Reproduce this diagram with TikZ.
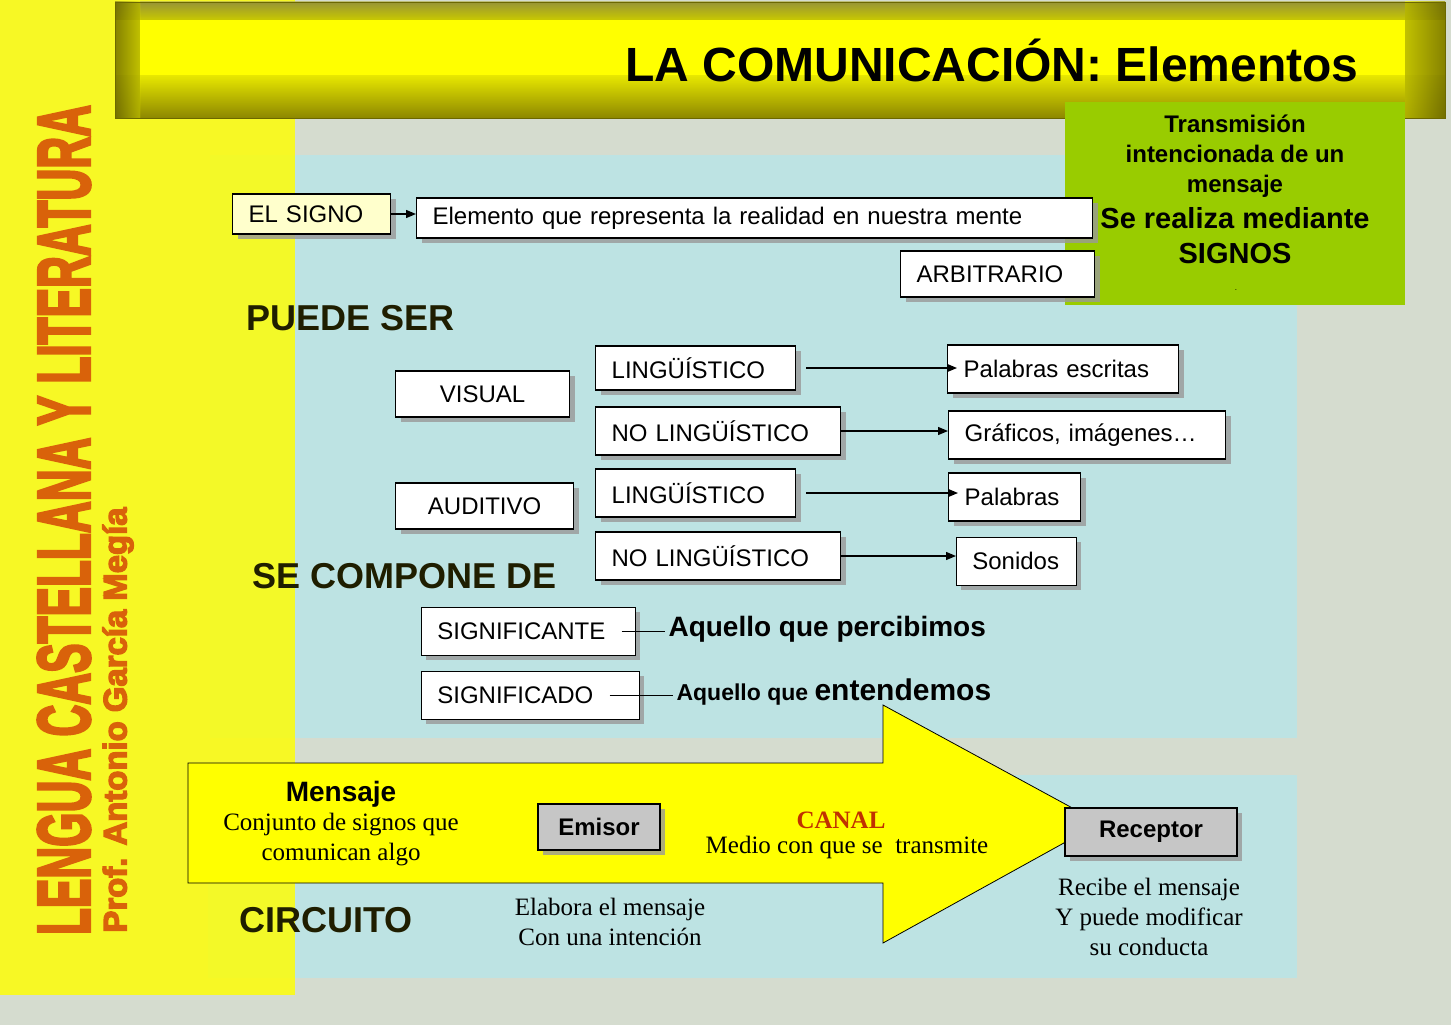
\documentclass[tikz,border=0pt]{standalone}
\usepackage{fontspec}
\setmainfont{Liberation Serif}
\setsansfont{Liberation Sans}
\newfontfamily\heavyfont{Liberation Sans}[FakeBold=4,BoldFont={* Bold}]
\usetikzlibrary{arrows.meta,shadows}
\definecolor{bg}{HTML}{D5DCCF}
\definecolor{ylw}{HTML}{FFFF00}
\definecolor{pblue}{HTML}{BDE3E3}
\definecolor{grn}{HTML}{99CC00}
\definecolor{org}{HTML}{D9620A}
\definecolor{olive}{HTML}{9A9400}
\definecolor{canal}{HTML}{C03000}
\tikzset{
 box/.style={draw=black,line width=1.3pt,fill=white,font=\sffamily\fontsize{24}{28}\selectfont,anchor=west,inner xsep=16pt,text width=#1-32pt,align=left,minimum height=40pt,drop shadow={shadow xshift=5pt,shadow yshift=-5pt,fill=gray!80,opacity=0.8}},
 gbox/.style={draw=black,line width=1.3pt,fill=gray!45,font=\sffamily\bfseries\fontsize{24}{28}\selectfont,minimum height=46pt,drop shadow={shadow xshift=5pt,shadow yshift=-5pt,fill=gray!80,opacity=0.8}},
 head/.style={font=\sffamily\bfseries\fontsize{36}{40}\selectfont,text=black!80!olive,anchor=west},
 ser/.style={font=\fontsize{25}{30}\selectfont,align=center},
 arr/.style={-{Triangle[length=10pt,width=8pt]},line width=1.3pt},
}
\begin{document}
\begin{tikzpicture}[x=1pt,y=-1pt]
\useasboundingbox (0,0) rectangle (1451,1025);
\fill[bg] (0,0) rectangle (1451,1025);
% panels
\fill[pblue] (210,155) rectangle (1297,738);
\fill[pblue] (208,775) rectangle (1297,978);
\fill[ylw,opacity=0.82] (0,0) rectangle (295,995);
% top banner
\fill[ylw] (115,2) rectangle (1445,118);
\fill[top color=ylw,bottom color=olive,opacity=0.9] (115,75) rectangle (1445,118);
\fill[top color=olive!70,bottom color=ylw,opacity=0.7] (115,2) rectangle (1445,20);
\fill[left color=olive,right color=ylw,opacity=0.6] (115,2) rectangle (140,118);
\fill[left color=ylw,right color=olive,opacity=0.6] (1405,2) rectangle (1445,118);
\draw[olive!70!black,line width=0.8pt] (115,2) rectangle (1445,118);
\node[anchor=east,font=\sffamily\bfseries\fontsize{48}{55}\selectfont] (title) at (1362,60) {LA COMUNICACIÓN: Elementos};
% vertical titles
\node[rotate=90,text=org] (lcl) at (64,520) {\resizebox{830pt}{52pt}{\heavyfont\bfseries LENGUA CASTELLANA Y LITERATURA}};
\node[rotate=90,text=org] (prof) at (118,720) {\resizebox{425pt}{24pt}{\heavyfont\bfseries Prof. Antonio García Megía}};
% green box
\fill[grn] (1065,102) rectangle (1405,305);
\node[align=center,font=\sffamily\bfseries\fontsize{24}{30}\selectfont] (gtxt) at (1235,156) {Transmisión\\intencionada de un\\mensaje};
\node[align=center,font=\sffamily\bfseries\fontsize{29}{35}\selectfont] (gtxt2) at (1235,236) {Se realiza mediante\\SIGNOS};
\node[font=\sffamily\fontsize{8}{8}\selectfont] (dot) at (1236,290) {.};
% signo row
\node[box=158pt,fill=white!80!ylw] (signo) at (232,214) {EL SIGNO};
\node[box=676pt] (def) at (416,218) {Elemento que representa la realidad en nuestra mente};
\draw[arr] (signo.east) -- (signo.east -| def.west);
\node[box=194pt,minimum height=46pt] (arb) at (900,274) {ARBITRARIO};
\node[head] (puede) at (243,318) {PUEDE SER};
\node[head] (compone) at (249,576) {SE COMPONE DE};
\node[head] (circ) at (236,920) {CIRCUITO};
% visual / auditivo
\node[box=174pt,minimum height=46pt,align=center] (vis) at (395,394) {VISUAL};
\node[box=178pt,minimum height=46pt,align=center] (aud) at (395,506) {AUDITIVO};
\node[box=200pt,minimum height=44pt] (l1) at (595,368) {LINGÜÍSTICO};
\node[box=245pt,minimum height=48pt] (n1) at (595,431) {NO LINGÜÍSTICO};
\node[box=200pt,minimum height=48pt] (l2) at (595,493) {LINGÜÍSTICO};
\node[box=245pt,minimum height=48pt] (n2) at (595,556) {NO LINGÜÍSTICO};
\node[box=231pt,minimum height=48pt] (r1) at (947,369) {Palabras escritas};
\node[box=277pt,minimum height=48pt] (r2) at (948,435) {Gráficos, imágenes…};
\node[box=132pt,minimum height=48pt] (r3) at (948,497) {Palabras};
\node[box=120pt,minimum height=48pt,line width=0.6pt] (r4) at (956,561) {Sonidos};
\draw[arr] ([xshift=10pt]l1.east) -- ([xshift=10pt]l1.east -| r1.west);
\draw[arr] (n1.east) -- (n1.east -| r2.west);
\draw[arr] ([xshift=10pt]l2.east) -- ([xshift=10pt]l2.east -| r3.west);
\draw[arr] (n2.east) -- (n2.east -| r4.west);
% significante
\node[box=214pt,minimum height=48pt,line width=0.7pt,drop shadow={opacity=0}] (ste) at (421,631) {SIGNIFICANTE};
\node[box=218pt,minimum height=48pt,line width=0.7pt,drop shadow={opacity=0}] (sdo) at (421,695) {SIGNIFICADO};
\node[anchor=west,font=\sffamily\bfseries\fontsize{28}{30}\selectfont] (perc) at (665,629) {Aquello que percibimos};
\node[anchor=west,font=\sffamily\bfseries\fontsize{23}{30}\selectfont] (ent) at (673,692) {Aquello que \fontsize{30}{30}\selectfont entendemos};
\draw[line width=0.8pt] ([xshift=-14pt]ste.east) -- (ste.east -| perc.west);
\draw[line width=0.8pt] ([xshift=-30pt]sdo.east) -- (sdo.east -| ent.west);
% big arrow
\draw[fill=ylw,line width=0.8pt] (188,763) -- (883,763) -- (883,705) -- (1100,823) -- (883,943) -- (883,883) -- (188,883) -- cycle;
\node[font=\sffamily\bfseries\fontsize{28}{30}\selectfont] (mens) at (341,794) {Mensaje};
\node[ser] (mensd) at (341,840) {Conjunto de signos que\\comunican algo};
\node[gbox,minimum width=122pt] (emi) at (599,827) {Emisor};
\node[font=\bfseries\fontsize{25}{28}\selectfont,text=canal,inner sep=0pt] (canal) at (841,820) {CANAL};
\node[ser,inner sep=0pt] (canald) at (847,847) {Medio con que se\ \ transmite};
\node[gbox,minimum width=172pt,minimum height=48pt] (rec) at (1151,832) {Receptor};
\node[ser] (emid) at (610,922) {Elabora el mensaje\\Con una intención};
\node[ser] (recd) at (1149,917) {Recibe el mensaje\\Y puede modificar\\su conducta};
\end{tikzpicture}
\end{document}
